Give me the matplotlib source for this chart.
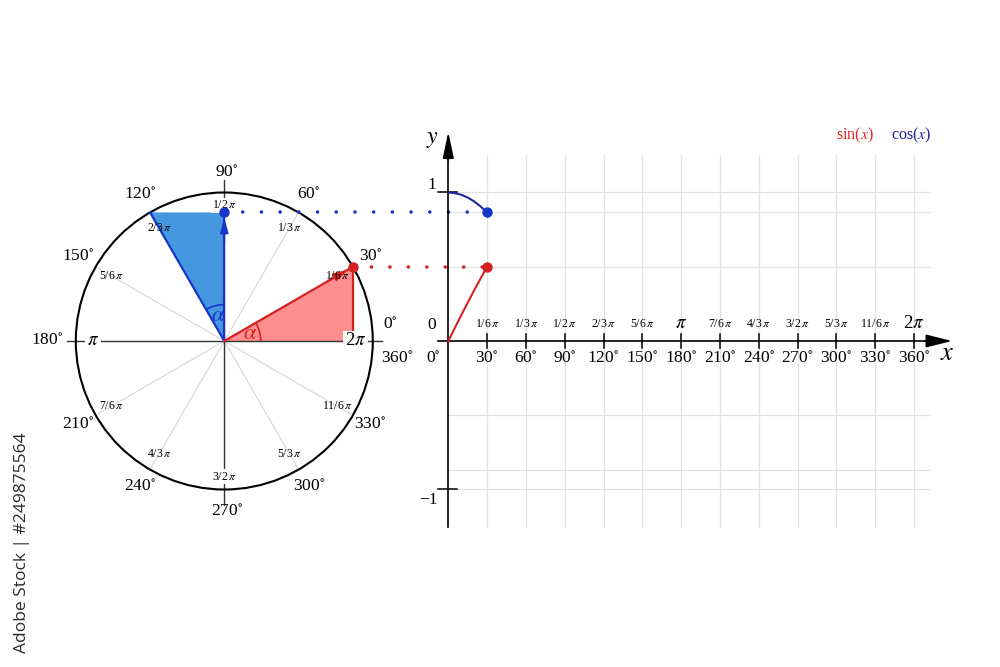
import numpy as np
import matplotlib
matplotlib.use("Agg")
import matplotlib.pyplot as plt
from matplotlib.patches import Circle, Polygon, Arc

plt.rcParams['font.family'] = ['Liberation Serif', 'DejaVu Serif']
plt.rcParams['mathtext.fontset'] = 'stix'

# ---------------- data ----------------
circle_angles = [0, 30, 60, 90, 120, 150, 180, 210, 240, 270, 300, 330]
circle_deg_labels = [r'0$^{\circ}$', r'30$^{\circ}$', r'60$^{\circ}$', r'90$^{\circ}$',
                     r'120$^{\circ}$', r'150$^{\circ}$', r'180$^{\circ}$', r'210$^{\circ}$',
                     r'240$^{\circ}$', r'270$^{\circ}$', r'300$^{\circ}$', r'330$^{\circ}$']
circle_rad_labels = [r'2$\pi$', r'1/6$\,\pi$', r'1/3$\,\pi$', r'1/2$\,\pi$', r'2/3$\,\pi$',
                     r'5/6$\,\pi$', r'$\pi$', r'7/6$\,\pi$', r'4/3$\,\pi$', r'3/2$\,\pi$',
                     r'5/3$\,\pi$', r'11/6$\,\pi$']
x_ticks_deg = [30, 60, 90, 120, 150, 180, 210, 240, 270, 300, 330, 360]
x_tick_deg_labels = [r'30$^{\circ}$', r'60$^{\circ}$', r'90$^{\circ}$', r'120$^{\circ}$',
                     r'150$^{\circ}$', r'180$^{\circ}$', r'210$^{\circ}$', r'240$^{\circ}$',
                     r'270$^{\circ}$', r'300$^{\circ}$', r'330$^{\circ}$', r'360$^{\circ}$']
x_tick_rad_labels = [r'1/6$\,\pi$', r'1/3$\,\pi$', r'1/2$\,\pi$', r'2/3$\,\pi$', r'5/6$\,\pi$',
                     r'$\pi$', r'7/6$\,\pi$', r'4/3$\,\pi$', r'3/2$\,\pi$', r'5/3$\,\pi$',
                     r'11/6$\,\pi$', r'2$\pi$']
y_grid_values = [1.0, 0.866, 0.5, -0.5, -0.866, -1.0]
alpha_deg = 30
sin_value = 0.5
cos_value = 0.866
sin_x = [0, 10, 20, 30]
sin_y = [0.0, 0.174, 0.342, 0.5]
cos_x = [0, 5, 10, 15, 20, 25, 30]
cos_y = [1.0, 0.996, 0.985, 0.966, 0.940, 0.906, 0.866]

# ---------------- layout ----------------
S = 148.5                      # pixels per unit
CX, CY = 224.3, 341.0          # circle centre in pixels
X0 = (448.3 - CX) / S          # graph origin (units)
K = 0.26128 / 30.0             # units per degree on the graph


def gx(d):
    return X0 + np.asarray(d, dtype=float) * K


def px(p):
    return (p - CX) / S


def py(p):
    return (CY - p) / S


RED_LINE = '#d42222'
RED_FILL = '#ff8e8e'
BLUE_LINE = '#1736c8'
BLUE_FILL = '#4597e0'
COS_LINE = '#1a2896'
GRID = '#e2e2e2'
SPOKE = '#d6d6d6'
FS_DEG = 12.5
FS_FRAC = 8.5
FS_BIG = 13.5

fig = plt.figure(figsize=(10, 6.67), dpi=100)
ax = fig.add_axes([0, 0, 1, 1])
ax.set_xlim(px(0), px(1000))
ax.set_ylim(py(667), py(0))
ax.axis('off')

# ---------------- graph grid ----------------
g_top, g_bot = py(155), py(527)
for d in x_ticks_deg:
    ax.plot([gx(d), gx(d)], [g_bot, g_top], color=GRID, lw=0.9, zorder=1)
for v in y_grid_values:
    ax.plot([X0, px(930)], [v, v], color=GRID, lw=0.9, zorder=1)

# ---------------- unit circle ----------------
for a in circle_angles:
    if a % 90 != 0:
        t = np.radians(a)
        ax.plot([0, np.cos(t)], [0, np.sin(t)], color=SPOKE, lw=0.8, zorder=2)

ta = np.radians(alpha_deg)
t120 = np.radians(90 + alpha_deg)
blue_tri = Polygon([(0, 0), (0, cos_value), (np.cos(t120), np.sin(t120))],
                   closed=True, facecolor=BLUE_FILL, edgecolor='none', zorder=3)
red_tri = Polygon([(0, 0), (cos_value, 0), (cos_value, sin_value)],
                  closed=True, facecolor=RED_FILL, edgecolor='none', zorder=3)
ax.add_patch(blue_tri)
ax.add_patch(red_tri)

ax.plot([px(67), px(382)], [0, 0], color='#333333', lw=1.0, zorder=4)
ax.plot([0, 0], [py(505), py(180)], color='#333333', lw=1.0, zorder=4)
ax.add_patch(Circle((0, 0), 1.0, fill=False, edgecolor='black', lw=1.5, zorder=5))

# triangle edges
ax.plot([0, np.cos(t120)], [0, np.sin(t120)], color=BLUE_LINE, lw=1.6, zorder=6)
ax.plot([0, 0], [0, cos_value], color=BLUE_LINE, lw=1.6, zorder=6)
ax.plot([0, cos_value], [0, sin_value], color=RED_LINE, lw=1.6, zorder=6)
ax.plot([cos_value, cos_value], [0, sin_value], color=RED_LINE, lw=1.6, zorder=6)
ax.annotate('', xy=(0, cos_value), xytext=(0, cos_value - 0.2),
            arrowprops=dict(arrowstyle='-|>,head_length=0.9,head_width=0.25',
                            color=BLUE_LINE, lw=1.2, shrinkA=0, shrinkB=4,
                            mutation_scale=10), zorder=7)
ax.annotate('', xy=(cos_value, sin_value),
            xytext=(cos_value - 0.2 * np.cos(ta), sin_value - 0.2 * np.sin(ta)),
            arrowprops=dict(arrowstyle='-|>,head_length=0.9,head_width=0.25',
                            color=RED_LINE, lw=1.2, shrinkA=0, shrinkB=4,
                            mutation_scale=10), zorder=7)

# angle arcs and alpha labels
ra = 0.245
ax.add_patch(Arc((0, 0), 2 * ra, 2 * ra, theta1=90, theta2=90 + alpha_deg,
                 color=BLUE_LINE, lw=1.2, zorder=6))
ax.add_patch(Arc((0, 0), 2 * ra, 2 * ra, theta1=0, theta2=alpha_deg,
                 color=RED_LINE, lw=1.2, zorder=6))
bb = np.radians(90 + alpha_deg / 2)
rb = np.radians(alpha_deg / 2)
ax.text(0.17 * np.cos(bb), 0.17 * np.sin(bb), r'$\alpha$', color=BLUE_LINE,
        fontsize=16, ha='center', va='center', zorder=8)
ax.text(0.18 * np.cos(rb), 0.18 * np.sin(rb), r'$\alpha$', color=RED_LINE,
        fontsize=16, ha='center', va='center', zorder=8)

# circle labels
for a, dl, rl in zip(circle_angles, circle_deg_labels, circle_rad_labels):
    t = np.radians(a)
    if a == 0:
        continue
    if a == 180:
        ox, oy = -1.195, 0.0
    elif a == 90:
        ox, oy = 0.016, 1.13
    elif a == 270:
        ox, oy = 0.016, -1.15
    else:
        ox, oy = 1.135 * np.cos(t), 1.135 * np.sin(t)
    ax.text(ox, oy, dl, fontsize=FS_DEG, ha='center', va='center', zorder=9)
    if a % 90 == 0:
        ri = 0.915 if a in (90, 270) else 0.885
        ax.text(ri * np.cos(t), ri * np.sin(t), rl,
                fontsize=FS_BIG if a == 180 else FS_FRAC, ha='center', va='center', zorder=9,
                bbox=dict(boxstyle='square,pad=0.12', fc='white', ec='none'))
    else:
        ax.text(0.88 * np.cos(t), 0.88 * np.sin(t), rl,
                fontsize=FS_FRAC, ha='center', va='center', zorder=9)
# 0° / 360° / 2π at the right end
ax.text(1.118, 0.108, circle_deg_labels[0], fontsize=FS_DEG, ha='center', va='center', zorder=9)
ax.text(1.165, -0.121, r'360$^{\circ}$', fontsize=FS_DEG, ha='center', va='center', zorder=9)
ax.text(0.885, 0.0, circle_rad_labels[0], fontsize=FS_BIG, ha='center', va='center', zorder=9,
        bbox=dict(boxstyle='square,pad=0.1', fc='white', ec='none'))

# ---------------- dotted projection lines ----------------
ax.plot([0, gx(30)], [cos_value, cos_value], color=BLUE_LINE, lw=2.6,
        linestyle=(0, (0.01, 5.17)), dash_capstyle='round', zorder=6)
ax.plot([cos_value, gx(30)], [sin_value, sin_value], color=RED_LINE, lw=2.6,
        linestyle=(0, (0.01, 5.1)), dash_capstyle='round', zorder=6)

# ---------------- graph axes ----------------
ax.plot([X0, X0], [py(527), py(150)], color='black', lw=1.2, zorder=6)
ax.annotate('', xy=(X0, py(132)), xytext=(X0, py(160)),
            arrowprops=dict(arrowstyle='-|>,head_length=1.6,head_width=0.34',
                            color='black', lw=1.2, shrinkA=0, shrinkB=0,
                            mutation_scale=10), zorder=7)
ax.plot([px(438), px(935)], [0, 0], color='black', lw=1.2, zorder=6)
ax.annotate('', xy=(px(952), 0), xytext=(px(925), 0),
            arrowprops=dict(arrowstyle='-|>,head_length=1.6,head_width=0.4',
                            color='black', lw=1.2, shrinkA=0, shrinkB=0,
                            mutation_scale=10), zorder=7)
for d in x_ticks_deg:
    ax.plot([gx(d), gx(d)], [-0.05, 0.05], color='black', lw=1.1, zorder=6)
for v in (1.0, -1.0):
    ax.plot([px(438), px(457)], [v, v], color='black', lw=1.1, zorder=6)

for d, dl, rl in zip(x_ticks_deg, x_tick_deg_labels, x_tick_rad_labels):
    ax.text(gx(d), py(359), dl, fontsize=FS_DEG, ha='center', va='center', zorder=9)
    big = rl in (r'$\pi$', r'2$\pi$')
    ax.text(gx(d), py(324), rl, fontsize=FS_BIG if big else FS_FRAC,
            ha='center', va='center', zorder=9)
ax.text(px(433), py(359), r'0$^{\circ}$', fontsize=FS_DEG, ha='center', va='center', zorder=9)
ax.text(px(432), py(185), '1', fontsize=FS_DEG, ha='center', va='center', zorder=9)
ax.text(px(432), py(325), '0', fontsize=FS_DEG, ha='center', va='center', zorder=9)
ax.text(px(428), py(500), '−1', fontsize=FS_DEG, ha='center', va='center', zorder=9)
ax.text(px(432), py(139), r'$y$', fontsize=17, ha='center', va='center', zorder=9)
ax.text(px(947), py(354), r'$x$', fontsize=19, ha='center', va='center', zorder=9)

# ---------------- curves ----------------
ax.plot(gx(sin_x), sin_y, color=RED_LINE, lw=1.5, zorder=7)
ax.plot(gx(cos_x), cos_y, color=COS_LINE, lw=1.5, zorder=7)

# points
for x_, y_, c in [(cos_value, sin_value, RED_LINE), (gx(30), sin_value, RED_LINE),
                  (0, cos_value, BLUE_LINE), (gx(30), cos_value, BLUE_LINE)]:
    ax.plot([x_], [y_], 'o', color=c, markersize=6.5, zorder=10)

# legend texts
ax.text(px(855), py(135), r'sin($x$)', color='#e02222', fontsize=11.5,
        ha='center', va='center')
ax.text(px(911), py(135), r'cos($x$)', color='#1c1c9c', fontsize=11.5,
        ha='center', va='center')

# side credit
ax.text(px(22), py(543), 'Adobe Stock | #249875564', rotation=90, color='#2b2b2b',
        fontsize=12.5, family=['Open Sans', 'DejaVu Sans'], ha='center', va='center')

fig.savefig('out.png', dpi=100, facecolor='white')
